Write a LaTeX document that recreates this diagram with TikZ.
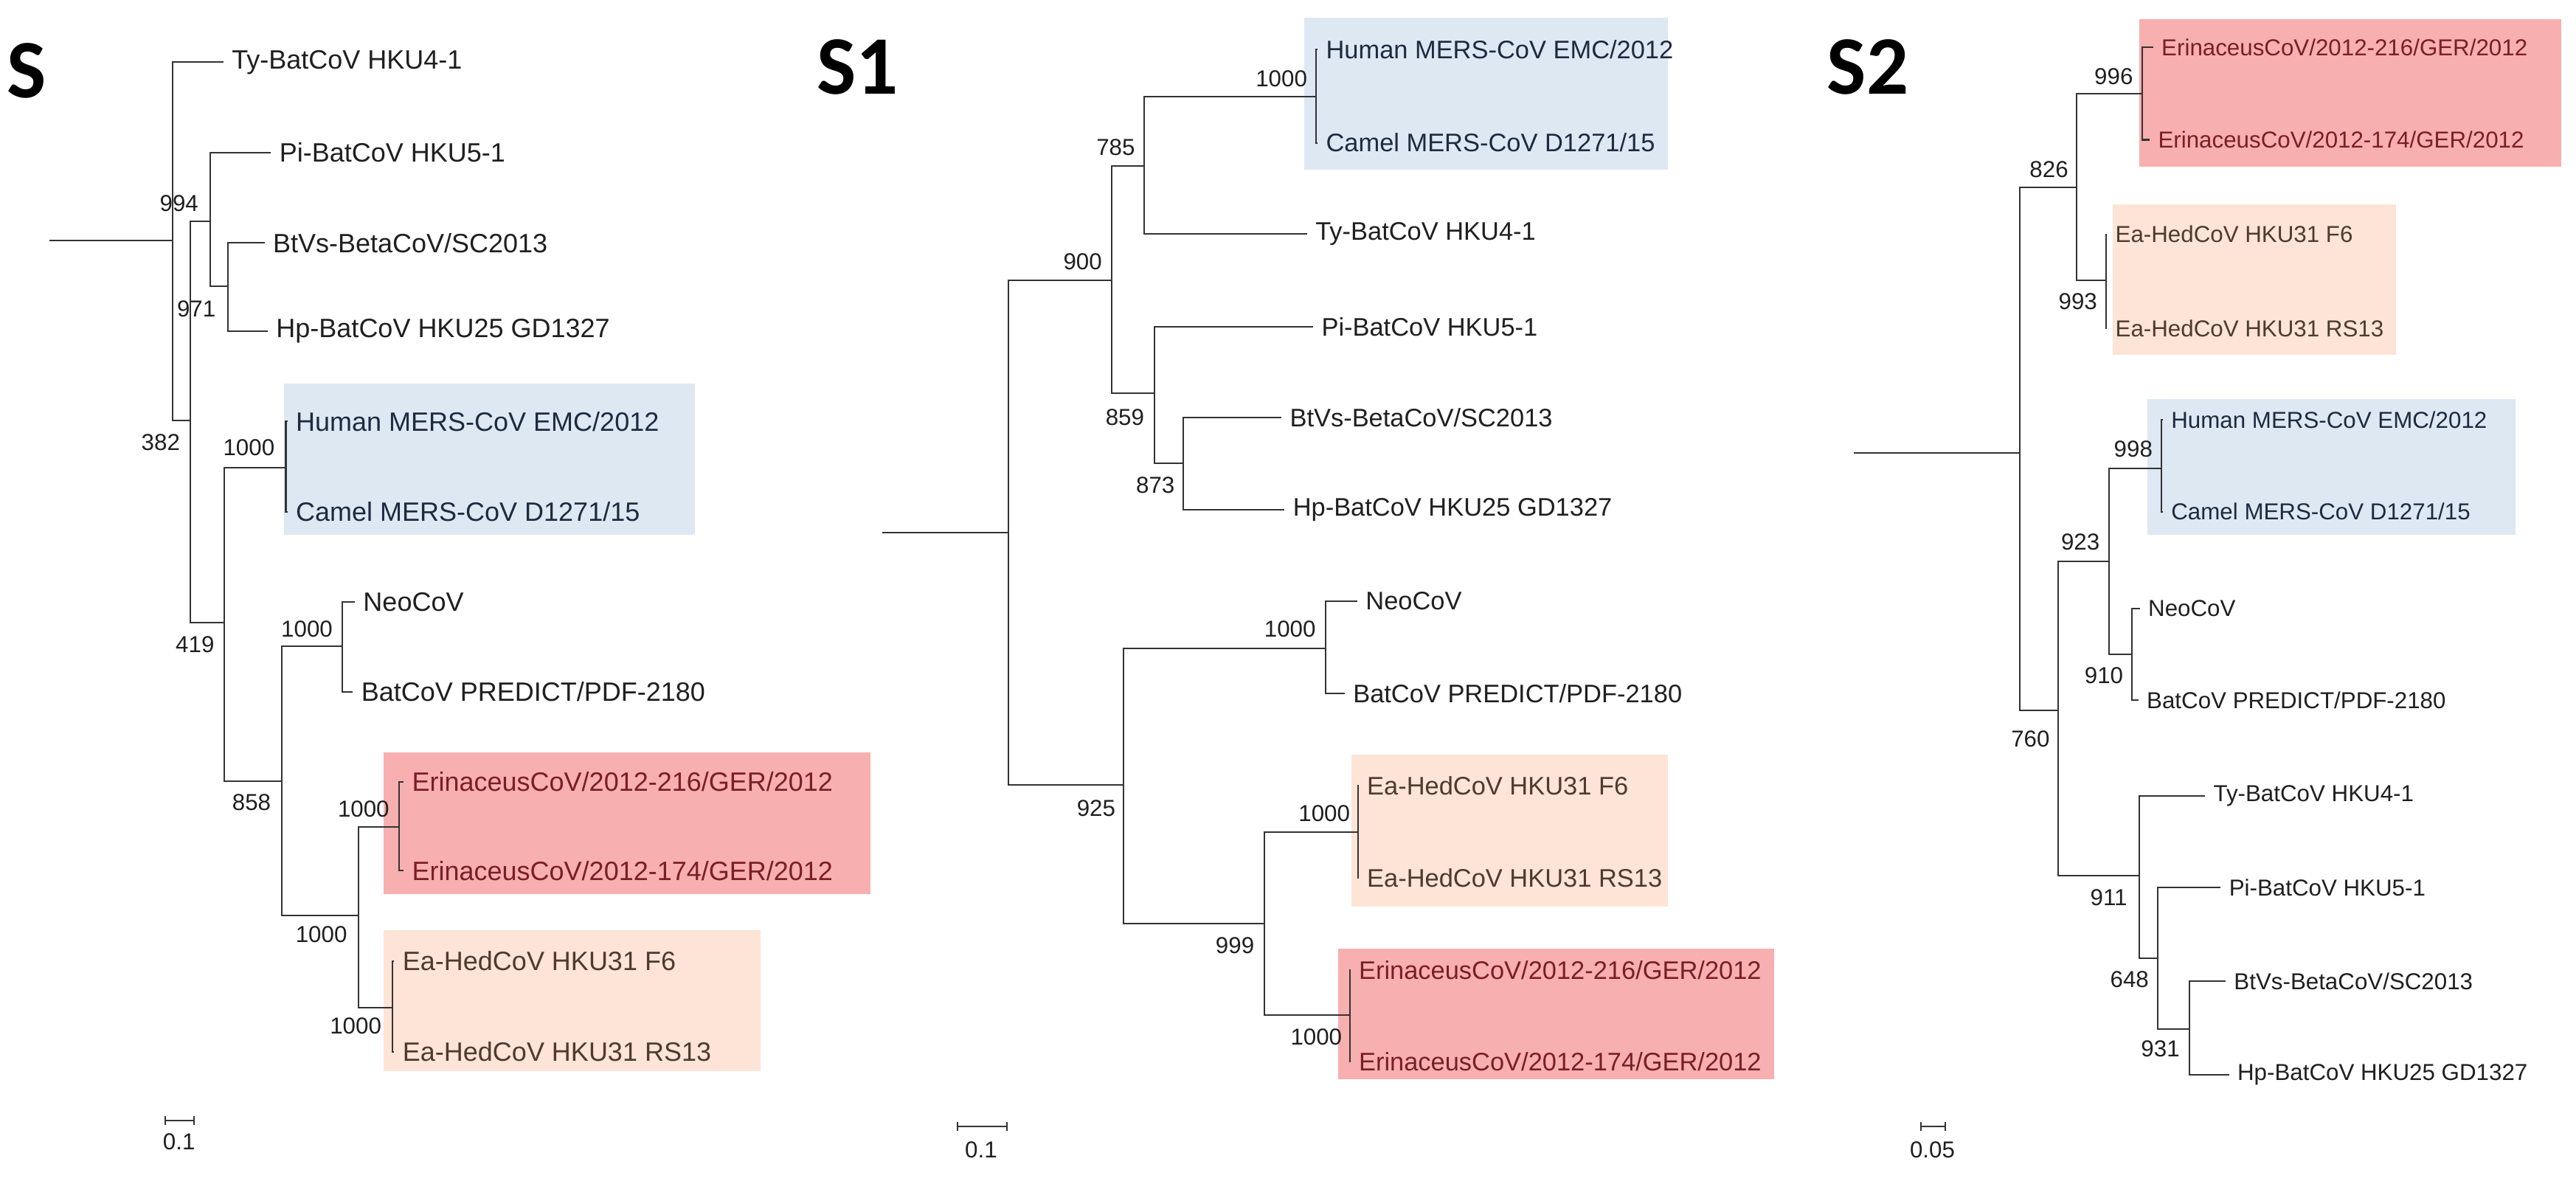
\documentclass[tikz,border=0pt]{standalone}
\usepackage{fontspec}
\setmainfont{Liberation Sans}
\newfontfamily\titlefont{Carlito}
\usetikzlibrary{arrows.meta}
\definecolor{branch}{HTML}{333333}
\definecolor{merscol}{HTML}{DEE8F3}
\definecolor{erincol}{HTML}{F8AFAF}
\definecolor{hedcol}{HTML}{FDE4D6}
\definecolor{erintxt}{HTML}{7A1E26}
\definecolor{hedtxt}{HTML}{4E3A2E}
\definecolor{merstxt}{HTML}{1E2A40}
\tikzset{
  branch/.style={draw=branch, line width=1.3pt},
  leaf/.style={anchor=west, inner xsep=0.25cm, inner ysep=0pt, text=black!88},
  boot/.style={inner sep=0pt, text=black!88, font=\fontsize{20}{20}\selectfont},
  title/.style={anchor=north west, inner sep=0pt, font=\titlefont\bfseries\fontsize{72}{72}\selectfont},
  scalebar/.style={draw=branch, line width=1.2pt, {Bar[width=8pt]}-{Bar[width=8pt]}},
}
\begin{document}
\begin{tikzpicture}[x=0.05cm, y=-0.05cm]
\useasboundingbox (0,0) rectangle (1568,729);

% coloured boxes
\fill[merscol] (173,233.4) rectangle (423,325.4);
\fill[erincol] (233.5,458) rectangle (530,544);
\fill[hedcol] (233.5,566.3) rectangle (463,651.8);
\fill[merscol] (793.8,10.7) rectangle (1015.3,103.2);
\fill[hedcol] (822.8,459.3) rectangle (1015.3,551.8);
\fill[erincol] (814.3,577.4) rectangle (1079.7,656.9);
\fill[erincol] (1302.1,11.6) rectangle (1558.8,101.3);
\fill[hedcol] (1286,124.6) rectangle (1458.2,216.2);
\fill[merscol] (1306.9,243.1) rectangle (1531.3,325.4);

% titles
\node[title] (tS) at (4,26) {S};
\node[title] (tSa) at (497,24) {S1};
\node[title] (tSb) at (1112,24) {S2};

% ---- tree S ----
\begin{scope}[every node/.append style={font=\fontsize{23}{23}\selectfont}]
\coordinate (sRoot) at (30,146.6);
\coordinate (sA) at (105,146.6);
\coordinate (sB) at (115.8,256);
\coordinate (sC) at (127.8,134.5);
\coordinate (sD) at (138.7,174.1);
\coordinate (sE) at (136.6,379);
\coordinate (sF) at (174,284.8);
\coordinate (sG) at (171.6,475.4);
\coordinate (sH) at (208.5,393.4);
\coordinate (sI) at (218.1,557.2);
\coordinate (sJ) at (242.9,503.5);
\coordinate (sK) at (238.9,613.4);
\node[leaf] (sTy) at (136,37.8) {Ty-BatCoV HKU4-1};
\node[leaf] (sPi) at (165,92.8) {Pi-BatCoV HKU5-1};
\node[leaf] (sBt) at (161,147.8) {BtVs-BetaCoV/SC2013};
\node[leaf] (sHp) at (163,201.6) {Hp-BatCoV HKU25 GD1327};
\node[leaf, text=merstxt] (sHu) at (175,256.6) {Human MERS-CoV EMC/2012};
\node[leaf, text=merstxt] (sCa) at (175,311.6) {Camel MERS-CoV D1271/15};
\node[leaf] (sNeo) at (216,366.3) {NeoCoV};
\node[leaf] (sBc) at (214.8,421) {BatCoV PREDICT/PDF-2180};
\node[leaf, text=erintxt] (sEr1) at (245.7,475.9) {ErinaceusCoV/2012-216/GER/2012};
\node[leaf, text=erintxt] (sEr2) at (245.7,530) {ErinaceusCoV/2012-174/GER/2012};
\node[leaf, text=hedtxt] (sEa1) at (240,585) {Ea-HedCoV HKU31 F6};
\node[leaf, text=hedtxt] (sEa2) at (240,640.2) {Ea-HedCoV HKU31 RS13};
\draw[branch] (sRoot) -- (sA);
\draw[branch] (sA) |- (sTy.west);
\draw[branch] (sA) |- (sB);
\draw[branch] (sB) |- (sC);
\draw[branch] (sB) |- (sE);
\draw[branch] (sC) |- (sPi.west);
\draw[branch] (sC) |- (sD);
\draw[branch] (sD) |- (sBt.west);
\draw[branch] (sD) |- (sHp.west);
\draw[branch] (sE) |- (sF);
\draw[branch] (sE) |- (sG);
\draw[branch] (sF) |- (sHu.west);
\draw[branch] (sF) |- (sCa.west);
\draw[branch] (sG) |- (sH);
\draw[branch] (sG) |- (sI);
\draw[branch] (sH) |- (sNeo.west);
\draw[branch] (sH) |- (sBc.west);
\draw[branch] (sI) |- (sJ);
\draw[branch] (sI) |- (sK);
\draw[branch] (sJ) |- (sEr1.west);
\draw[branch] (sJ) |- (sEr2.west);
\draw[branch] (sK) |- (sEa1.west);
\draw[branch] (sK) |- (sEa2.west);
\node[boot] (sbA) at (109,123.7) {994};
\node[boot] (sbC) at (119.5,187.9) {971};
\node[boot] (sbB) at (97.8,269.2) {382};
\node[boot] (sbF) at (151.5,272.6) {1000};
\node[boot] (sbE) at (118.7,392.2) {419};
\node[boot] (sbH) at (186.8,382.8) {1000};
\node[boot] (sbG) at (153.1,488.4) {858};
\node[boot] (sbJ) at (221.3,492.4) {1000};
\node[boot] (sbI) at (195.6,569) {1000};
\node[boot] (sbK) at (216.5,624.4) {1000};
\coordinate (sS0) at (100.2,682);
\coordinate (sS1) at (118.7,682);
\draw[scalebar] (sS0) -- (sS1);
\node[boot] (sSl) at (109,695) {0.1};
\end{scope}

% ---- tree S1 ----
\begin{scope}[every node/.append style={font=\fontsize{22}{22}\selectfont}]
\coordinate (aRoot) at (536.9,324);
\coordinate (aR) at (613.9,324);
\coordinate (aP) at (676.5,170.6);
\coordinate (aQ) at (696.6,100.9);
\coordinate (aM) at (801.2,59);
\coordinate (aN) at (702.6,239.4);
\coordinate (aO) at (720.4,282.2);
\coordinate (aL) at (683.9,477.9);
\coordinate (aNe) at (806.8,394.7);
\coordinate (aX) at (769.6,562.1);
\coordinate (aEa) at (826.5,506.3);
\coordinate (aEr) at (821.7,617.9);
\node[leaf, text=merstxt] (aHu) at (802,30.2) {Human MERS-CoV EMC/2012};
\node[leaf, text=merstxt] (aCa) at (802,86.9) {Camel MERS-CoV D1271/15};
\node[leaf] (aTy) at (795.6,142.3) {Ty-BatCoV HKU4-1};
\node[leaf] (aPi) at (799.3,199) {Pi-BatCoV HKU5-1};
\node[leaf] (aBt) at (780,254.3) {BtVs-BetaCoV/SC2013};
\node[leaf] (aHp) at (781.9,310.1) {Hp-BatCoV HKU25 GD1327};
\node[leaf] (aNeo) at (826.2,365.9) {NeoCoV};
\node[leaf] (aBc) at (818.5,422.1) {BatCoV PREDICT/PDF-2180};
\node[leaf, text=hedtxt] (aEa1) at (827,478.4) {Ea-HedCoV HKU31 F6};
\node[leaf, text=hedtxt] (aEa2) at (827,534.2) {Ea-HedCoV HKU31 RS13};
\node[leaf, text=erintxt] (aEr1) at (822,590.4) {ErinaceusCoV/2012-216/GER/2012};
\node[leaf, text=erintxt] (aEr2) at (822,646.2) {ErinaceusCoV/2012-174/GER/2012};
\draw[branch] (aRoot) -- (aR);
\draw[branch] (aR) |- (aP);
\draw[branch] (aR) |- (aL);
\draw[branch] (aP) |- (aQ);
\draw[branch] (aP) |- (aN);
\draw[branch] (aQ) |- (aM);
\draw[branch] (aQ) |- (aTy.west);
\draw[branch] (aM) |- (aHu.west);
\draw[branch] (aM) |- (aCa.west);
\draw[branch] (aN) |- (aPi.west);
\draw[branch] (aN) |- (aO);
\draw[branch] (aO) |- (aBt.west);
\draw[branch] (aO) |- (aHp.west);
\draw[branch] (aL) |- (aNe);
\draw[branch] (aL) |- (aX);
\draw[branch] (aNe) |- (aNeo.west);
\draw[branch] (aNe) |- (aBc.west);
\draw[branch] (aX) |- (aEa);
\draw[branch] (aX) |- (aEr);
\draw[branch] (aEa) |- (aEa1.west);
\draw[branch] (aEa) |- (aEa2.west);
\draw[branch] (aEr) |- (aEr1.west);
\draw[branch] (aEr) |- (aEr2.west);
\node[boot] (abM) at (780,47.9) {1000};
\node[boot] (abQ) at (679.1,89.7) {785};
\node[boot] (abP) at (659,159.5) {900};
\node[boot] (abN) at (684.7,253.8) {859};
\node[boot] (abO) at (703.3,295.2) {873};
\node[boot] (abNe) at (785.2,383.1) {1000};
\node[boot] (abL) at (667.2,491.9) {925};
\node[boot] (abEa) at (806.1,495.1) {1000};
\node[boot] (abX) at (751.7,575.5) {999};
\node[boot] (abEr) at (801.2,631.3) {1000};
\coordinate (aS0) at (582.3,685.7);
\coordinate (aS1) at (613.2,685.7);
\draw[scalebar] (aS0) -- (aS1);
\node[boot] (aSl) at (597.2,699.7) {0.1};
\end{scope}

% ---- tree S2 ----
\begin{scope}[every node/.append style={font=\fontsize{20}{20}\selectfont}]
\coordinate (bRoot) at (1128.5,275.7);
\coordinate (bR) at (1229.3,275.7);
\coordinate (bT) at (1264.2,113.9);
\coordinate (bEr) at (1303.9,57.2);
\coordinate (bEa) at (1282.1,170.6);
\coordinate (bU) at (1252.9,432.4);
\coordinate (bV) at (1283.6,341.7);
\coordinate (bM) at (1315.6,285);
\coordinate (bNe) at (1297.7,398.4);
\coordinate (bW) at (1302.1,533.2);
\coordinate (bY) at (1313.5,583.4);
\coordinate (bZ) at (1332.9,626.2);
\node[leaf, text=erintxt] (bEr1) at (1310.6,28.8) {ErinaceusCoV/2012-216/GER/2012};
\node[leaf, text=erintxt] (bEr2) at (1308.5,85.1) {ErinaceusCoV/2012-174/GER/2012};
\node[leaf, text=hedtxt] (bEa1) at (1282.5,142.7) {Ea-HedCoV HKU31 F6};
\node[leaf, text=hedtxt] (bEa2) at (1282.5,199.9) {Ea-HedCoV HKU31 RS13};
\node[leaf, text=merstxt] (bHu) at (1316.5,255.7) {Human MERS-CoV EMC/2012};
\node[leaf, text=merstxt] (bCa) at (1316.5,311.5) {Camel MERS-CoV D1271/15};
\node[leaf] (bNeo) at (1302.5,370.5) {NeoCoV};
\node[leaf] (bBc) at (1301.6,426.3) {BatCoV PREDICT/PDF-2180};
\node[leaf] (bTy) at (1342.2,484.4) {Ty-BatCoV HKU4-1};
\node[leaf] (bPi) at (1351.7,540.2) {Pi-BatCoV HKU5-1};
\node[leaf] (bBt) at (1354.7,597.4) {BtVs-BetaCoV/SC2013};
\node[leaf] (bHp) at (1356.8,654.1) {Hp-BatCoV HKU25 GD1327};
\draw[branch] (bRoot) -- (bR);
\draw[branch] (bR) |- (bT);
\draw[branch] (bR) |- (bU);
\draw[branch] (bT) |- (bEr);
\draw[branch] (bT) |- (bEa);
\draw[branch] (bEr) |- (bEr1.west);
\draw[branch] (bEr) |- (bEr2.west);
\draw[branch] (bEa) |- (bEa1.west);
\draw[branch] (bEa) |- (bEa2.west);
\draw[branch] (bU) |- (bV);
\draw[branch] (bU) |- (bW);
\draw[branch] (bV) |- (bM);
\draw[branch] (bV) |- (bNe);
\draw[branch] (bM) |- (bHu.west);
\draw[branch] (bM) |- (bCa.west);
\draw[branch] (bNe) |- (bNeo.west);
\draw[branch] (bNe) |- (bBc.west);
\draw[branch] (bW) |- (bTy.west);
\draw[branch] (bW) |- (bY);
\draw[branch] (bY) |- (bPi.west);
\draw[branch] (bY) |- (bZ);
\draw[branch] (bZ) |- (bBt.west);
\draw[branch] (bZ) |- (bHp.west);
\node[boot] (bbEr) at (1286.6,46.5) {996};
\node[boot] (bbT) at (1247.2,103.2) {826};
\node[boot] (bbEa) at (1264.8,183.6) {993};
\node[boot] (bbM) at (1298.5,273.4) {998};
\node[boot] (bbV) at (1266.3,330.1) {923};
\node[boot] (bbNe) at (1280.6,411) {910};
\node[boot] (bbU) at (1235.9,450) {760};
\node[boot] (bbW) at (1283.6,546.3) {911};
\node[boot] (bbY) at (1296.2,596) {648};
\node[boot] (bbZ) at (1315,638.3) {931};
\coordinate (bS0) at (1168.7,685.7);
\coordinate (bS1) at (1184.3,685.7);
\draw[scalebar] (bS0) -- (bS1);
\node[boot] (bSl) at (1176.2,699.7) {0.05};
\end{scope}
\end{tikzpicture}
\end{document}
